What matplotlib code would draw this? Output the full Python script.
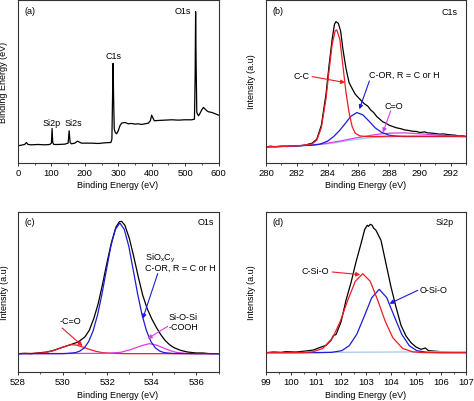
import matplotlib
matplotlib.use("Agg")
import matplotlib.pyplot as plt
from matplotlib.ticker import MultipleLocator, NullLocator

plt.rcParams['font.family'] = ['Liberation Sans', 'DejaVu Sans']
plt.rcParams['mathtext.fontset'] = 'custom'
plt.rcParams['mathtext.rm'] = 'Liberation Sans'

# ---------------- data ----------------
# (a) survey spectrum
a_x = [0, 10, 20, 25, 30, 40, 60, 80, 95, 100, 102, 104, 107, 120, 140, 150, 153, 156, 160, 170,
       178, 182, 190, 200, 220, 240, 260, 278, 281, 283, 284.5, 286, 288, 291, 295, 300, 305, 310,
       320, 330, 340, 350, 360, 370, 380, 390, 396, 400, 403, 408, 420, 440, 460, 480, 500, 520,
       528, 530, 531.5, 533, 535, 540, 545, 550, 555, 560, 565, 570, 580, 590, 600]
a_y = [50, 52, 54, 60, 54, 53, 54, 53, 54, 58, 102, 60, 54, 54, 55, 58, 95, 60, 56, 58,
       64, 62, 58, 58, 58, 57, 59, 60, 70, 200, 297, 200, 100, 90, 86, 95, 110, 118,
       120, 116, 117, 115, 116, 114, 116, 118, 125, 142, 135, 125, 126, 127, 128, 127, 128, 128,
       130, 250, 452, 300, 150, 140, 148, 158, 165, 160, 155, 152, 150, 146, 142]

# (b) C1s
b_bg_x = [280, 281, 282, 283, 283.5, 284, 284.5, 285, 285.5, 286, 286.5, 287, 287.5, 288, 289, 290, 291, 292, 293]
b_bg_y = [47, 48, 50, 52, 54, 56, 59, 63, 67, 70, 73, 75, 76, 77, 78, 78, 78, 78, 78]
b_co_y = [47, 48, 50, 53, 55, 58, 62, 66, 71, 75, 79, 83, 86, 88, 89, 86, 83, 80, 78]
b_cor_x = [280, 282, 283, 283.5, 284, 284.4, 284.8, 285.2, 285.5, 285.9, 286.3, 286.7, 287.1, 287.5,
           288, 288.5, 289, 290, 291, 292, 293]
b_cor_y = [47, 50, 52, 55, 64, 78, 97, 120, 138, 150, 143, 124, 104, 91, 82, 79, 78, 78, 78, 78, 78]
b_cc_x = [280, 281, 282, 282.5, 283, 283.3, 283.6, 283.9, 284.1, 284.3, 284.5, 284.6, 284.8, 285.0,
          285.2, 285.4, 285.6, 285.8, 286.1, 286.5, 287, 288, 289, 290, 291, 292, 293]
b_cc_y = [47, 48, 50, 52, 56, 67, 105, 192, 276, 355, 396, 398, 370, 290, 210, 150, 108, 88, 80,
          78, 78, 79, 79, 79, 79, 79, 78]
b_raw_x = [280, 280.3, 280.6, 281, 281.4, 281.8, 282.2, 282.6, 283, 283.3, 283.6, 283.9, 284.1, 284.3,
           284.45, 284.55, 284.7, 284.85, 285.0, 285.2, 285.4, 285.6, 285.8, 286.1, 286.4, 286.6,
           286.8, 287.0, 287.2, 287.4, 287.6, 287.8, 288.0, 288.3, 288.5, 288.8, 289.0, 289.3, 289.5,
           289.8, 290.0, 290.3, 290.5, 290.8, 291.0, 291.3, 291.5, 291.8, 292.0, 292.3, 292.5, 292.8, 293]
b_raw_y = [47, 49, 47, 49, 48, 50, 50, 53, 58, 70, 112, 205, 292, 370, 415, 423, 418, 395, 340, 282,
           240, 222, 205, 190, 176, 170, 158, 150, 138, 130, 122, 118, 112, 107, 104, 101, 98, 96, 94,
           93, 90, 92, 89, 88, 87, 85, 86, 84, 83, 82, 80, 80, 78]

# (c) O1s
c_main_x = [528, 529, 530, 530.17, 530.57, 530.77, 530.97, 531.17, 531.37, 531.57, 531.77, 531.97,
            532.17, 532.37, 532.57, 532.77, 532.97, 533.17, 533.37, 533.57, 533.77, 533.97, 534.17,
            534.37, 534.57, 534.97, 536, 537]
c_main_y = [55, 55, 55, 55.5, 58, 62.5, 72, 91, 123, 171, 234, 307, 378, 428, 447, 428, 378, 307,
            234, 171, 123, 91, 72, 62.5, 58, 55.5, 55, 55]
c_co_x = [528, 528.8, 529.2, 529.6, 529.9, 530.2, 530.4, 530.6, 530.9, 531.2, 531.5, 531.8, 532.2, 533, 537]
c_co_y = [55, 56, 58, 64, 72, 79, 82, 81, 75, 68, 62, 58, 56, 55, 55]
c_sio_x = [528, 532, 532.6, 533.0, 533.3, 533.6, 533.9, 534.2, 534.5, 534.8, 535.1, 535.5, 536, 537]
c_sio_y = [55, 56, 59, 66, 73, 80, 85, 81, 73, 65, 59, 56, 55, 55]
c_raw_x = [528, 528.3, 528.6, 529, 529.3, 529.6, 530, 530.4, 530.7, 531.0, 531.2, 531.4, 531.6, 531.8,
           532.0, 532.2, 532.4, 532.55, 532.65, 532.8, 533.0, 533.2, 533.4, 533.6, 533.8, 534.0,
           534.2, 534.4, 534.6, 534.8, 535.0, 535.3, 535.6, 536, 536.3, 536.6, 537]
c_raw_y = [55, 56, 55, 58, 60, 65, 74, 83, 90, 105, 125, 160, 205, 265, 330, 390, 435, 451, 452, 440,
           400, 345, 285, 230, 190, 160, 135, 113, 95, 82, 73, 65, 60, 57, 57, 55, 55]

# (d) Si2p
d_bg_x = [99, 107]
d_bg_y = [58, 61]
d_csio_x = [99, 100, 100.47, 100.87, 101.27, 101.67, 101.97, 102.27, 102.57, 102.87, 103.17, 103.47,
            103.77, 104.07, 104.47, 104.87, 105.27, 106, 107]
d_csio_y = [58, 58, 58.3, 60.4, 70.5, 103, 152, 215, 272, 295, 272, 215, 152, 103, 70.5, 60.4, 58.3, 58, 58]
d_osio_x = [99, 101, 101.63, 102.03, 102.33, 102.63, 102.93, 103.23, 103.53, 103.83, 104.13, 104.43,
            104.73, 105.03, 105.43, 106, 107]
d_osio_y = [58, 58, 59, 64, 79, 113, 167, 223, 248, 223, 167, 113, 79, 64, 59, 58, 58]
d_raw_x = [99, 99.3, 99.6, 99.8, 100.2, 100.6, 100.9, 101.1, 101.4, 101.6, 101.7, 101.8, 102.0, 102.2,
           102.4, 102.6, 102.8, 102.95, 103.05, 103.1, 103.17, 103.25, 103.3, 103.4, 103.6, 103.8,
           104.0, 104.2, 104.4, 104.6, 104.8, 105.0, 105.2, 105.37, 105.5, 106, 106.5, 107]
d_raw_y = [58, 60, 59, 61, 60, 63, 66, 72, 80, 95, 110, 112, 150, 215, 268, 330, 385, 428, 440, 437,
           443, 440, 432, 425, 395, 325, 255, 195, 140, 108, 88, 75, 68, 72, 64, 61, 60, 60]

# ---------------- style ----------------
W, H = 474, 402
RED = '#ee1c24'
BLUE = '#1c1cd8'
MAG = '#e03ce0'
BG = '#a6c8ee'
SP = '#333333'
LW = 0.9
FS = 6.5
TFS = 6.8

fig = plt.figure(figsize=(W / 100, H / 100), dpi=100)


def make_ax(l, r, t, b, xlim, ylim, major, minor):
    ax = fig.add_axes([l / W, (H - b) / H, (r - l) / W, (b - t) / H])
    ax.set_xlim(*xlim)
    ax.set_ylim(*ylim)
    ax.xaxis.set_major_locator(MultipleLocator(major))
    ax.xaxis.set_minor_locator(MultipleLocator(minor))
    ax.yaxis.set_major_locator(NullLocator())
    ax.yaxis.set_minor_locator(NullLocator())
    ax.tick_params(axis='x', which='major', direction='out', length=2.3, width=0.7,
                   labelsize=TFS, pad=1.5, colors=SP, labelcolor='black')
    ax.tick_params(axis='x', which='minor', direction='out', length=1.3, width=0.6, colors=SP)
    for s in ax.spines.values():
        s.set_color(SP)
        s.set_linewidth(0.8)
    return ax


def arrow(ax, xy_from, xy_to, color):
    ax.annotate('', xy=xy_to, xytext=xy_from,
                arrowprops=dict(arrowstyle='-|>', color=color, lw=0.8, mutation_scale=6,
                                shrinkA=0, shrinkB=0))


# (a)
axa = make_ax(18, 218.5, 1, 163.5, (0, 600), (0, 487), 100, 50)
axa.plot(a_x, a_y, color='black', lw=LW)
axa.text(37, 455, '(a)', fontsize=FS, ha='center', va='center')
axa.text(492, 455, 'O1s', fontsize=FS, ha='center', va='center')
axa.text(285, 320, 'C1s', fontsize=FS, ha='center', va='center')
axa.text(100, 120, 'Si2p', fontsize=FS, ha='center', va='center')
axa.text(167, 120, 'Si2s', fontsize=FS, ha='center', va='center')

# (b)
axb = make_ax(266, 466, 1, 163.5, (280, 293), (0, 488), 2, 1)
axb.plot(b_raw_x, b_raw_y, color='black', lw=LW)
axb.plot(b_bg_x, b_bg_y, color=BG, lw=LW)
axb.plot(b_bg_x, b_co_y, color=MAG, lw=LW)
axb.plot(b_cor_x, b_cor_y, color=BLUE, lw=LW)
axb.plot(b_cc_x, b_cc_y, color=RED, lw=LW)
axb.text(280.78, 455, '(b)', fontsize=FS, ha='center', va='center')
axb.text(291.9, 452, 'C1s', fontsize=FS, ha='center', va='center')
axb.text(282.28, 262, 'C-C', fontsize=FS, ha='center', va='center')
axb.text(288.96, 264, 'C-OR, R = C or H', fontsize=FS, ha='center', va='center')
axb.text(288.32, 170, 'C=O', fontsize=FS, ha='center', va='center')
arrow(axb, (283.0, 258), (285.14, 240), RED)
arrow(axb, (286.72, 245), (286.07, 160), BLUE)
arrow(axb, (288.1, 155), (287.6, 90), MAG)

# (c)
axc = make_ax(18, 218.5, 213, 373, (528, 537), (0, 480), 2, 1)
axc.plot(c_raw_x, c_raw_y, color='black', lw=LW)
axc.plot(c_co_x, c_co_y, color=RED, lw=LW)
axc.plot(c_sio_x, c_sio_y, color=MAG, lw=LW)
axc.plot(c_main_x, c_main_y, color=BLUE, lw=LW)
axc.text(528.51, 450, '(c)', fontsize=FS, ha='center', va='center')
axc.text(536.45, 450, 'O1s', fontsize=FS, ha='center', va='center')
axc.text(533.7, 343, r'SiO$_\mathregular{x}$C$_\mathregular{y}$', fontsize=FS, ha='left', va='center')
axc.text(533.7, 313, 'C-OR, R = C or H', fontsize=FS, ha='left', va='center')
axc.text(530.35, 155, '-C=O', fontsize=FS, ha='center', va='center')
axc.text(534.77, 167, 'Si-O-Si', fontsize=FS, ha='left', va='center')
axc.text(534.77, 135, '-COOH', fontsize=FS, ha='left', va='center')
arrow(axc, (534.27, 295), (533.6, 160), BLUE)
arrow(axc, (529.98, 132), (530.9, 78), RED)
arrow(axc, (534.72, 137), (533.82, 100), MAG)

# (d)
axd = make_ax(266, 466, 213, 373, (99, 107), (0, 480), 1, 0.5)
axd.plot(d_raw_x, d_raw_y, color='black', lw=LW)
axd.plot(d_bg_x, d_bg_y, color=BG, lw=LW)
axd.plot(d_osio_x, d_osio_y, color=BLUE, lw=LW)
axd.plot(d_csio_x, d_csio_y, color=RED, lw=LW)
axd.text(99.47, 450, '(d)', fontsize=FS, ha='center', va='center')
axd.text(106.14, 450, 'Si2p', fontsize=FS, ha='center', va='center')
axd.text(100.99, 303, 'C-Si-O', fontsize=FS, ha='center', va='center')
axd.text(105.70, 248, 'O-Si-O', fontsize=FS, ha='center', va='center')
arrow(axd, (101.65, 300), (102.77, 292), RED)
arrow(axd, (105.07, 245), (103.94, 205), BLUE)

# axis labels (figure pixel positions)
def ftext(x, y, s, rot=0):
    fig.text(x / W, 1 - y / H, s, fontsize=FS, ha='center', va='center', rotation=rot)

ftext(118, 186, 'Binding Energy (eV)')
ftext(366, 186, 'Binding Energy (eV)')
ftext(118, 396, 'Binding Energy (eV)')
ftext(366, 396, 'Binding Energy (eV)')
ftext(4, 82, 'Binding Energy (eV)', 90)
ftext(252, 82, 'Intensity (a.u)', 90)
ftext(5, 293, 'Intensity (a.u)', 90)
ftext(252, 293, 'Intensity (a.u)', 90)

fig.savefig('out.png', dpi=100)
